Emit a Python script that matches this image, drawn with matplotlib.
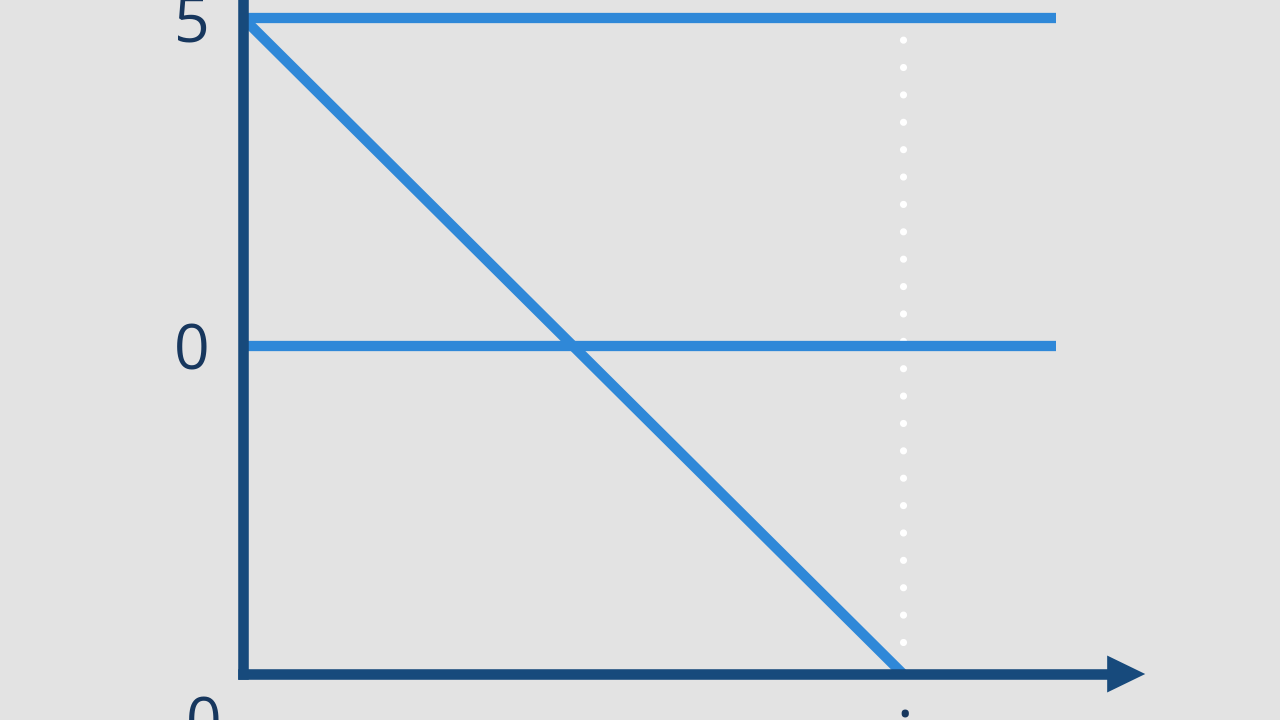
import matplotlib
matplotlib.use("Agg")
import matplotlib.pyplot as plt

# ---- data ----
h_levels = [5, 0]            # horizontal reference lines
h_x_range = [0, 12.32]       # horizontal extent of reference lines
diag_x = [0, 10]
diag_y = [5, -5]
marker_x = 10                # dotted vertical marker
marker_y_range = [-4.51, 4.74]
ytick_vals = [5, 0]
ytick_labels = ["5", "0"]
bottom_labels = ["0", "."]
bottom_label_x = [-0.59, 10.02]
axis_x_tip = 13.67
axis_y_bottom = -5

# ---- style ----
bg = "#e3e3e3"
axis_col = "#174a7c"
line_col = "#2f88d8"
text_col = "#17375e"
font = "Open Sans"

fig = plt.figure(figsize=(12.8, 7.2), dpi=100, facecolor=bg)
ax = fig.add_axes([0, 0, 1, 1], facecolor=bg)
ax.set_xlim(-3.682, 15.712)
ax.set_ylim(-5.701, 5.274)

# dotted marker line (below the blue lines)
ax.vlines(marker_x, marker_y_range[0], marker_y_range[1], colors="white",
          linewidth=5.2, linestyles=[(0, (0.001, 3.79))], zorder=1)
for lc in ax.collections:
    lc.set_capstyle("round")

for lvl in h_levels:
    ax.plot(h_x_range, [lvl, lvl], color=line_col, lw=7.4,
            solid_capstyle="butt", zorder=3)
ax.plot(diag_x, diag_y, color=line_col, lw=7.4, solid_capstyle="butt", zorder=3)

# axes
for s in ["top", "right"]:
    ax.spines[s].set_visible(False)
head_len_pt = 27.4
head_len_data = (head_len_pt / 72 * 100) / 66.0
ax.spines["left"].set_position(("data", 0))
ax.spines["left"].set_bounds(axis_y_bottom, 5.4)
ax.spines["bottom"].set_position(("data", axis_y_bottom))
ax.spines["bottom"].set_bounds(0, axis_x_tip - head_len_data + 0.05)
for s in ["left", "bottom"]:
    ax.spines[s].set_color(axis_col)
    ax.spines[s].set_linewidth(7.6)
    ax.spines[s].set_zorder(4)

ax.annotate("", xy=(axis_x_tip, axis_y_bottom),
            xytext=(axis_x_tip - head_len_data, axis_y_bottom),
            arrowprops=dict(arrowstyle=f"-|>,head_length={head_len_pt},head_width=13.3",
                            lw=0, color=axis_col, shrinkA=0, shrinkB=0,
                            mutation_scale=1),
            zorder=5)

ax.set_yticks(ytick_vals)
ax.set_yticklabels(ytick_labels, fontsize=45, color=text_col, family=font)
ax.tick_params(axis="y", length=0, pad=24)
ax.set_xticks([])

ax.text(bottom_label_x[0], -6.04, bottom_labels[0], fontsize=45, color=text_col,
        family=font, ha="center", va="baseline")
ax.text(bottom_label_x[1], -5.67, bottom_labels[1], fontsize=45, color=text_col,
        family=font, ha="center", va="baseline")

fig.savefig("out.png", dpi=100, facecolor=bg)
